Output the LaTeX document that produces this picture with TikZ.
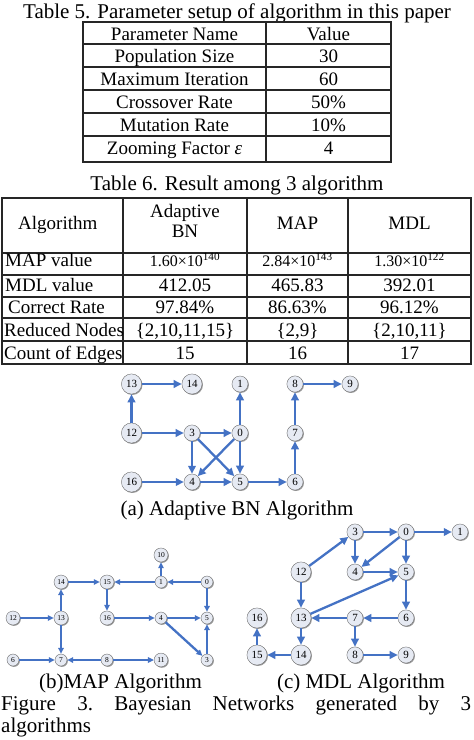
\documentclass[tikz,border=0pt]{standalone}
\usepackage{fontspec}
\setmainfont{Liberation Serif}
\usepackage{tikz}
\usetikzlibrary{positioning, arrows.meta, shadows}

\definecolor{edgeblue}{RGB}{68,114,196}
\definecolor{nodefill}{RGB}{230,234,243}

\begin{document}
\begin{tikzpicture}[x=1pt, y=-1pt,
    every node/.style={inner sep=0pt, font=\fontsize{19}{22}\selectfont},
    title/.style={font=\fontsize{21}{24}\selectfont},
    cell/.style={anchor=base},
    lcell/.style={anchor=base west},
    grid/.style={line width=1.2pt, black!85},
    bn/.style={draw=gray!85!black, fill=nodefill, circle, minimum size=15pt, inner sep=2.5pt, font=\fontsize{11}{12}\selectfont,
        drop shadow={shadow xshift=0.9pt, shadow yshift=-0.9pt, fill=gray, opacity=0.8}},
    bnsmall/.style={bn, minimum size=12pt, inner sep=1.8pt, font=\fontsize{7.5}{8}\selectfont},
    link/.style={-{Triangle[length=8pt, width=7.5pt]}, line width=2.3pt, edgeblue},
    linksmall/.style={-{Triangle[length=6pt, width=5.5pt]}, line width=1.6pt, edgeblue}]

    \useasboundingbox (0,0) rectangle (474,740);

    % Table 5
    \node (t5cap) [title, cell] at (237,18) {Table 5. Parameter setup of algorithm in this paper};
    \draw[grid] (83,22) rectangle (391,162);
    \draw[grid] (266,22) -- (266,162);
    \draw[grid] (83,44) -- (391,44) (83,67) -- (391,67) (83,90) -- (391,90) (83,113) -- (391,113) (83,136) -- (391,136);
    \node (t5h1) [cell] at (174.5,40) {Parameter Name};
    \node (t5h2) [cell] at (328.5,40) {Value};
    \node (t5p1) [cell] at (174.5,62.6) {Population Size};
    \node (t5v1) [cell] at (328.5,62.6) {30};
    \node (t5p2) [cell] at (174.5,85.3) {Maximum Iteration};
    \node (t5v2) [cell] at (328.5,85.3) {60};
    \node (t5p3) [cell] at (174.5,108.3) {Crossover Rate};
    \node (t5v3) [cell] at (328.5,108.3) {50\%};
    \node (t5p4) [cell] at (174.5,131) {Mutation Rate};
    \node (t5v4) [cell] at (328.5,131) {10\%};
    \node (t5p5) [cell] at (174.5,154.3) {Zooming Factor \textit{ε}};
    \node (t5v5) [cell] at (328.5,154.3) {4};

    % Table 6
    \node (t6cap) [title, cell] at (237,190.6) {Table 6. Result among 3 algorithm};
    \draw[grid] (2,198) rectangle (471,364);
    \draw[grid] (123,198) -- (123,364) (247,198) -- (247,364) (348,198) -- (348,364);
    \draw[grid] (2,253) -- (471,253) (2,275) -- (471,275) (2,297) -- (471,297) (2,318) -- (471,318) (2,341) -- (471,341);
    \node (t6h0) [lcell] at (18,229.3) {Algorithm};
    \node (t6h1a) [cell] at (185,217.6) {Adaptive};
    \node (t6h1b) [cell] at (185,237.6) {BN};
    \node (t6h2) [cell] at (297.5,229.3) {MAP};
    \node (t6h3) [cell] at (409.5,229.3) {MDL};
    \node (t6r1) [lcell] at (5,266.5) {MAP value};
    \node (t6r1a) [cell, font=\fontsize{16}{18}\selectfont] at (185,266.5) {1.60×10\textsuperscript{140}};
    \node (t6r1b) [cell, font=\fontsize{16}{18}\selectfont] at (297.5,266.5) {2.84×10\textsuperscript{143}};
    \node (t6r1c) [cell, font=\fontsize{16}{18}\selectfont] at (409.5,266.5) {1.30×10\textsuperscript{122}};
    \node (t6r2) [lcell] at (5,291.5) {MDL value};
    \node (t6r2a) [cell] at (185,291.5) {412.05};
    \node (t6r2b) [cell] at (297.5,291.5) {465.83};
    \node (t6r2c) [cell] at (409.5,291.5) {392.01};
    \node (t6r3) [lcell] at (8,313) {Correct Rate};
    \node (t6r3a) [cell] at (185,313) {97.84\%};
    \node (t6r3b) [cell] at (297.5,313) {86.63\%};
    \node (t6r3c) [cell] at (409.5,313) {96.12\%};
    \node (t6r4) [lcell] at (4,336) {Reduced Nodes};
    \node (t6r4a) [cell] at (185,336) {\{2,10,11,15\}};
    \node (t6r4b) [cell] at (297.5,336) {\{2,9\}};
    \node (t6r4c) [cell] at (409.5,336) {\{2,10,11\}};
    \node (t6r5) [lcell] at (4,359) {Count of Edges};
    \node (t6r5a) [cell] at (185,359) {15};
    \node (t6r5b) [cell] at (297.5,359) {16};
    \node (t6r5c) [cell] at (409.5,359) {17};

    % (a) Adaptive BN
    \node (a13) [bn] at (131.5,384) {13};
    \node (a14) [bn] at (192,384) {14};
    \node (a1) [bn] at (240,384) {1};
    \node (a8) [bn] at (295,384) {8};
    \node (a9) [bn] at (350,384) {9};
    \node (a12) [bn] at (131.5,433) {12};
    \node (a3) [bn] at (192,433) {3};
    \node (a0) [bn] at (240,433) {0};
    \node (a7) [bn] at (295,433) {7};
    \node (a16) [bn] at (131.5,482) {16};
    \node (a4) [bn] at (192,482) {4};
    \node (a5) [bn] at (240,482) {5};
    \node (a6) [bn] at (295,482) {6};
    \node (acap) [title, cell] at (237,515.5) {(a) Adaptive BN Algorithm};

    \draw[link] (a12) -- (a13);
    \draw[link] (a13) -- (a14);
    \draw[link] (a12) -- (a3);
    \draw[link] (a3) -- (a0);
    \draw[link] (a0) -- (a1);
    \draw[link] (a3) -- (a4);
    \draw[link] (a3) -- (a5);
    \draw[link] (a0) -- (a4);
    \draw[link] (a0) -- (a5);
    \draw[link] (a16) -- (a4);
    \draw[link] (a4) -- (a5);
    \draw[link] (a5) -- (a6);
    \draw[link] (a6) -- (a7);
    \draw[link] (a7) -- (a8);
    \draw[link] (a8) -- (a9);

    % (b) MAP
    \node (b10) [bnsmall] at (161,555) {10};
    \node (b14) [bnsmall] at (61,582) {14};
    \node (b15) [bnsmall] at (107,582) {15};
    \node (b1) [bnsmall] at (161,582) {1};
    \node (b0) [bnsmall] at (207,582) {0};
    \node (b12) [bnsmall] at (13,618) {12};
    \node (b13) [bnsmall] at (61,618) {13};
    \node (b16) [bnsmall] at (107,618) {16};
    \node (b4) [bnsmall] at (161,618) {4};
    \node (b5) [bnsmall] at (207,618) {5};
    \node (b6) [bnsmall] at (13,660) {6};
    \node (b7) [bnsmall] at (61,660) {7};
    \node (b8) [bnsmall] at (107,660) {8};
    \node (b11) [bnsmall] at (161,660) {11};
    \node (b3) [bnsmall] at (207,660) {3};
    \node (bcap) [title, cell] at (120.5,688) {(b)MAP Algorithm};

    \draw[linksmall] (b1) -- (b10);
    \draw[linksmall] (b0) -- (b1);
    \draw[linksmall] (b1) -- (b15);
    \draw[linksmall] (b14) -- (b15);
    \draw[linksmall] (b15) -- (b16);
    \draw[linksmall] (b13) -- (b14);
    \draw[linksmall] (b12) -- (b13);
    \draw[linksmall] (b13) -- (b7);
    \draw[linksmall] (b16) -- (b4);
    \draw[linksmall] (b4) -- (b5);
    \draw[linksmall] (b0) -- (b5);
    \draw[linksmall, line width=2.3pt] (b4) -- (b3);
    \draw[linksmall] (b3) -- (b5);
    \draw[linksmall] (b6) -- (b7);
    \draw[linksmall] (b8) -- (b7);
    \draw[linksmall] (b8) -- (b11);

    % (c) MDL
    \node (c3) [bn] at (355,532) {3};
    \node (c0) [bn] at (406,532) {0};
    \node (c1) [bn] at (460,532) {1};
    \node (c12) [bn] at (301,572) {12};
    \node (c4) [bn] at (355,572) {4};
    \node (c5) [bn] at (406,572) {5};
    \node (c16) [bn] at (257,618) {16};
    \node (c13) [bn] at (301,618) {13};
    \node (c7) [bn] at (355,618) {7};
    \node (c6) [bn] at (406,618) {6};
    \node (c15) [bn] at (257,655) {15};
    \node (c14) [bn] at (301,655) {14};
    \node (c8) [bn] at (355,655) {8};
    \node (c9) [bn] at (406,655) {9};
    \node (ccap) [title, cell] at (361,688) {(c) MDL Algorithm};

    \draw[link] (c12) -- (c3);
    \draw[link] (c3) -- (c0);
    \draw[link] (c0) -- (c1);
    \draw[link] (c3) -- (c4);
    \draw[link] (c0) -- (c4);
    \draw[link] (c0) -- (c5);
    \draw[link] (c4) -- (c5);
    \draw[link] (c12) -- (c13);
    \draw[link] (c13) -- (c5);
    \draw[link] (c5) -- (c6);
    \draw[link] (c6) -- (c7);
    \draw[link] (c7) -- (c13);
    \draw[link] (c7) -- (c8);
    \draw[link] (c8) -- (c9);
    \draw[link] (c13) -- (c14);
    \draw[link] (c14) -- (c15);
    \draw[link] (c15) -- (c16);

    % Figure caption
    \node (figcap) [font=\fontsize{21}{22}\selectfont, anchor=base west] at (1,710.5) {\parbox[t]{470pt}{\frenchspacing\hyphenpenalty=10000\tolerance=10000 Figure 3. Bayesian Networks generated by 3\linebreak algorithms}};
\end{tikzpicture}
\end{document}
